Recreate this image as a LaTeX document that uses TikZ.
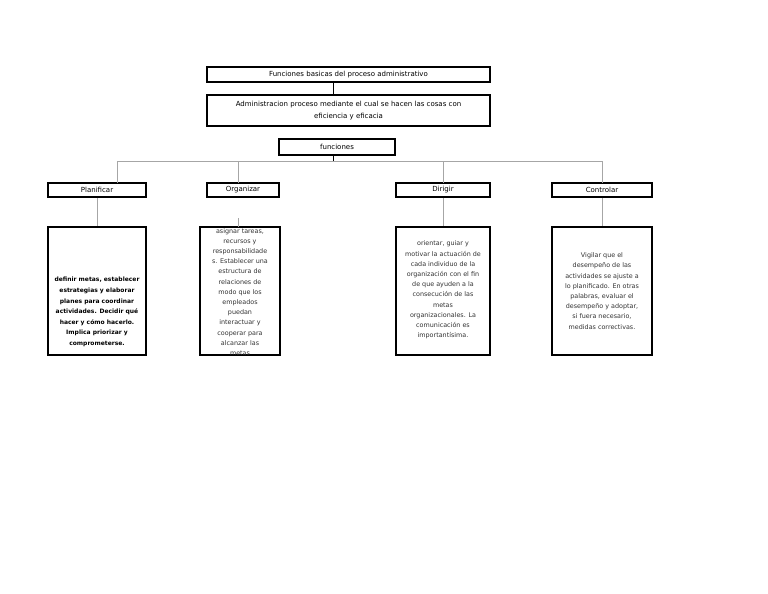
\documentclass[tikz,border=0pt]{standalone}
\usepackage{fontspec}
\setmainfont{DejaVu Sans}
\begin{document}
\begin{tikzpicture}[x=1pt,y=-1pt,
  hbox/.style={draw,line width=1.6pt,font=\fontsize{7}{8}\selectfont,inner sep=1pt},
  body/.style={font=\fontsize{6.4}{10.2}\selectfont,align=center,text=black!80},
  conn/.style={draw=gray!70,line width=0.6pt},
  cconn/.style={draw=black,line width=0.6pt}]
\useasboundingbox[fill=white] (0,0) rectangle (768,594);
\node[hbox,minimum width=283,minimum height=15] (t) at (348.5,74.5) {Funciones basicas del proceso administrativo};
\node[hbox,minimum width=283,minimum height=31,align=center,font=\fontsize{7}{12}\selectfont] (a) at (348.5,110.5) {Administracion proceso mediante el cual se hacen las cosas con\\eficiencia y eficacia};
\node[hbox,minimum width=116,minimum height=16] (f) at (337,147) {funciones};
\node[hbox,minimum width=98,minimum height=14] (p) at (97,190) {Planificar};
\node[hbox,minimum width=72,minimum height=14] (o) at (243,190) {Organizar};
\node[hbox,minimum width=94,minimum height=14] (d) at (443,190) {Dirigir};
\node[hbox,minimum width=100,minimum height=14] (c) at (602,190) {Controlar};
\draw[cconn] (t.south -| 333,0) -- (333,95);
\coordinate (j) at (333,161);
\draw[cconn] (f.south -| j) -- (j);
\draw[conn] (117,161) -- (602,161);
\draw[conn] (117,161) -- (117,183);
\draw[conn] (238,161) -- (238,183);
\draw[conn] (443,161) -- (443,183);
\draw[conn] (602,161) -- (602,183);
\node[hbox,minimum width=98,minimum height=128] (pb) at (97,291) {};
\node[hbox,minimum width=80,minimum height=128] (ob) at (240,291) {};
\node[hbox,minimum width=94,minimum height=128] (db) at (443,291) {};
\node[hbox,minimum width=100,minimum height=128] (cb) at (602,291) {};
\draw[conn] (p.south) -- (pb.north);
\draw[conn] (238,218) -- (238,227);
\draw[conn] (d.south) -- (db.north);
\draw[conn] (c.south) -- (cb.north);
\node[body,text=black,font=\fontsize{6}{10.6}\selectfont\bfseries] at (97,312) {definir metas, establecer\\estrategias y elaborar\\planes para coordinar\\actividades. Decidir qué\\hacer y cómo hacerlo.\\Implica priorizar y\\comprometerse.};
\begin{scope}
\clip (201,228) rectangle (279,354);
\node[body] at (240,292) {asignar tareas,\\recursos y\\responsabilidade\\s. Establecer una\\estructura de\\relaciones de\\modo que los\\empleados\\puedan\\interactuar y\\cooperar para\\alcanzar las\\metas};
\end{scope}
\node[body] at (443,290) {orientar, guiar y\\motivar la actuación de\\cada individuo de la\\organización con el fin\\de que ayuden a la\\consecución de las\\metas\\organizacionales. La\\comunicación es\\importantísima.};
\node[body] at (602,291) {Vigilar que el\\desempeño de las\\actividades se ajuste a\\lo planificado. En otras\\palabras, evaluar el\\desempeño y adoptar,\\si fuera necesario,\\medidas correctivas.};
\end{tikzpicture}
\end{document}
